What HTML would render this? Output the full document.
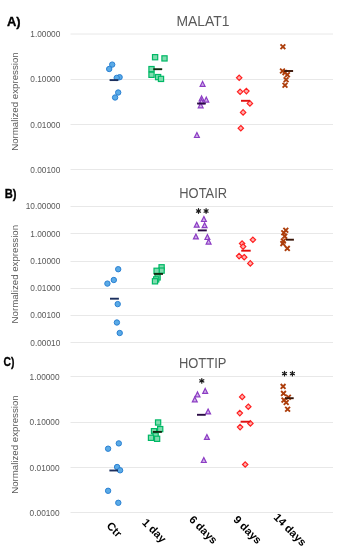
<!DOCTYPE html>
<html><head><meta charset="utf-8"><style>
html,body{margin:0;padding:0;background:#fff;width:343px;height:550px;overflow:hidden}
svg{display:block;will-change:transform}
text{font-family:"Liberation Sans", sans-serif}
.gl{stroke:#e8e8e8;stroke-width:1}
.tk{font-size:8.3px;fill:#595959;text-anchor:end}
.tt{font-size:14.6px;fill:#595959}
.lt{font-size:13.4px;font-weight:bold;fill:#000;stroke:#000;stroke-width:0.35}
.yl{font-size:9.7px;fill:#595959}
.xl{font-size:11.1px;font-weight:bold;fill:#000}
.st{fill:none;stroke:#1a1a1a;stroke-width:1.2;stroke-linecap:round}
.mc{fill:#5aaae6;stroke:#2a80d2;stroke-width:1}
.ms{fill:#7fdcae;stroke:#00b866;stroke-width:1.2}
.mt{fill:#cfb0e8;stroke:#8c3cc4;stroke-width:1.2;stroke-linejoin:miter}
.md{fill:#ffb0b0;stroke:#ff2020;stroke-width:1.2}
.mx{fill:none;stroke:#ad3e0c;stroke-width:1.9}
</style></head><body>
<svg width="343" height="550" viewBox="0 0 343 550">
<line x1="70.5" y1="34.0" x2="333.0" y2="34.0" class="gl"/>
<text x="60.3" y="37.00" class="tk">1.00000</text>
<line x1="70.5" y1="79.5" x2="333.0" y2="79.5" class="gl"/>
<text x="60.3" y="82.20" class="tk">0.10000</text>
<line x1="70.5" y1="124.5" x2="333.0" y2="124.5" class="gl"/>
<text x="60.3" y="127.50" class="tk">0.01000</text>
<line x1="70.5" y1="169.5" x2="333.0" y2="169.5" class="gl"/>
<text x="60.3" y="172.90" class="tk">0.00100</text>
<text x="176.5" y="25.5" class="tt" textLength="53.0" lengthAdjust="spacingAndGlyphs">MALAT1</text>
<text x="7.0" y="26.2" class="lt" textLength="13.6" lengthAdjust="spacingAndGlyphs">A)</text>
<text transform="translate(17.9 101.6) rotate(-90)" class="yl" text-anchor="middle" textLength="98.5" lengthAdjust="spacingAndGlyphs">Normalized expression</text>
<circle cx="112.2" cy="64.6" r="2.7" class="mc"/>
<circle cx="109.2" cy="69.0" r="2.7" class="mc"/>
<circle cx="119.6" cy="77.2" r="2.7" class="mc"/>
<circle cx="116.7" cy="77.9" r="2.7" class="mc"/>
<circle cx="118.2" cy="92.5" r="2.7" class="mc"/>
<circle cx="115.1" cy="97.5" r="2.7" class="mc"/>
<rect x="152.50" y="54.60" width="5.20" height="5.20" class="ms"/>
<rect x="161.90" y="55.80" width="5.20" height="5.20" class="ms"/>
<rect x="148.90" y="66.50" width="5.20" height="5.20" class="ms"/>
<rect x="148.90" y="72.20" width="5.20" height="5.20" class="ms"/>
<rect x="155.50" y="74.50" width="5.20" height="5.20" class="ms"/>
<rect x="158.40" y="76.30" width="5.20" height="5.20" class="ms"/>
<path d="M202.60 81.40L205.05 86.30L200.15 86.30Z" class="mt"/>
<path d="M201.60 95.90L204.05 100.80L199.15 100.80Z" class="mt"/>
<path d="M206.30 97.20L208.75 102.10L203.85 102.10Z" class="mt"/>
<path d="M201.50 98.90L203.95 103.80L199.05 103.80Z" class="mt"/>
<path d="M200.70 102.90L203.15 107.80L198.25 107.80Z" class="mt"/>
<path d="M196.90 132.60L199.35 137.50L194.45 137.50Z" class="mt"/>
<path d="M239.20 75.10L241.90 77.80L239.20 80.50L236.50 77.80Z" class="md"/>
<path d="M240.10 89.10L242.80 91.80L240.10 94.50L237.40 91.80Z" class="md"/>
<path d="M246.40 88.40L249.10 91.10L246.40 93.80L243.70 91.10Z" class="md"/>
<path d="M249.90 100.70L252.60 103.40L249.90 106.10L247.20 103.40Z" class="md"/>
<path d="M243.10 109.70L245.80 112.40L243.10 115.10L240.40 112.40Z" class="md"/>
<path d="M240.80 125.50L243.50 128.20L240.80 130.90L238.10 128.20Z" class="md"/>
<path d="M280.50 44.30L285.30 49.10M285.30 44.30L280.50 49.10" class="mx"/>
<path d="M280.10 68.60L284.90 73.40M284.90 68.60L280.10 73.40" class="mx"/>
<path d="M282.60 70.20L287.40 75.00M287.40 70.20L282.60 75.00" class="mx"/>
<path d="M285.00 72.40L289.80 77.20M289.80 72.40L285.00 77.20" class="mx"/>
<path d="M283.70 77.30L288.50 82.10M288.50 77.30L283.70 82.10" class="mx"/>
<path d="M282.60 82.80L287.40 87.60M287.40 82.80L282.60 87.60" class="mx"/>
<line x1="109.6" y1="80.1" x2="118.3" y2="80.1" stroke="#1b2f5e" stroke-width="1.9"/>
<line x1="153.3" y1="69.2" x2="162.2" y2="69.2" stroke="#102a10" stroke-width="1.9"/>
<line x1="197.1" y1="103.5" x2="205.8" y2="103.5" stroke="#2a0b45" stroke-width="1.9"/>
<line x1="241" y1="100.8" x2="249.9" y2="100.8" stroke="#e01010" stroke-width="1.9"/>
<line x1="284.2" y1="71" x2="293.1" y2="71" stroke="#3a1608" stroke-width="1.9"/>
<line x1="70.5" y1="206.5" x2="333.0" y2="206.5" class="gl"/>
<text x="60.3" y="209.40" class="tk">10.00000</text>
<line x1="70.5" y1="233.5" x2="333.0" y2="233.5" class="gl"/>
<text x="60.3" y="236.90" class="tk">1.00000</text>
<line x1="70.5" y1="261.5" x2="333.0" y2="261.5" class="gl"/>
<text x="60.3" y="264.40" class="tk">0.10000</text>
<line x1="70.5" y1="288.5" x2="333.0" y2="288.5" class="gl"/>
<text x="60.3" y="291.30" class="tk">0.01000</text>
<line x1="70.5" y1="315.5" x2="333.0" y2="315.5" class="gl"/>
<text x="60.3" y="318.40" class="tk">0.00100</text>
<line x1="70.5" y1="342.5" x2="333.0" y2="342.5" class="gl"/>
<text x="60.3" y="345.60" class="tk">0.00010</text>
<text x="179.3" y="198.4" class="tt" textLength="47.8" lengthAdjust="spacingAndGlyphs">HOTAIR</text>
<text x="4.8" y="198.2" class="lt" textLength="11.8" lengthAdjust="spacingAndGlyphs">B)</text>
<text transform="translate(17.9 274.2) rotate(-90)" class="yl" text-anchor="middle" textLength="98.5" lengthAdjust="spacingAndGlyphs">Normalized expression</text>
<circle cx="118.2" cy="269.2" r="2.7" class="mc"/>
<circle cx="113.8" cy="280" r="2.7" class="mc"/>
<circle cx="107.4" cy="283.6" r="2.7" class="mc"/>
<circle cx="117.7" cy="304.1" r="2.7" class="mc"/>
<circle cx="116.9" cy="322.5" r="2.7" class="mc"/>
<circle cx="119.7" cy="333" r="2.7" class="mc"/>
<rect x="159.00" y="264.70" width="5.20" height="5.20" class="ms"/>
<rect x="159.00" y="268.00" width="5.20" height="5.20" class="ms"/>
<rect x="154.00" y="268.20" width="5.20" height="5.20" class="ms"/>
<rect x="155.00" y="274.80" width="5.20" height="5.20" class="ms"/>
<rect x="153.60" y="276.80" width="5.20" height="5.20" class="ms"/>
<rect x="152.40" y="278.70" width="5.20" height="5.20" class="ms"/>
<path d="M203.90 216.60L206.35 221.50L201.45 221.50Z" class="mt"/>
<path d="M196.70 222.30L199.15 227.20L194.25 227.20Z" class="mt"/>
<path d="M204.60 222.80L207.05 227.70L202.15 227.70Z" class="mt"/>
<path d="M195.90 234.00L198.35 238.90L193.45 238.90Z" class="mt"/>
<path d="M207.40 234.60L209.85 239.50L204.95 239.50Z" class="mt"/>
<path d="M208.60 239.20L211.05 244.10L206.15 244.10Z" class="mt"/>
<path d="M252.90 237.10L255.60 239.80L252.90 242.50L250.20 239.80Z" class="md"/>
<path d="M242.10 240.80L244.80 243.50L242.10 246.20L239.40 243.50Z" class="md"/>
<path d="M243.10 243.90L245.80 246.60L243.10 249.30L240.40 246.60Z" class="md"/>
<path d="M239.10 253.40L241.80 256.10L239.10 258.80L236.40 256.10Z" class="md"/>
<path d="M244.20 254.50L246.90 257.20L244.20 259.90L241.50 257.20Z" class="md"/>
<path d="M250.30 260.70L253.00 263.40L250.30 266.10L247.60 263.40Z" class="md"/>
<path d="M283.40 227.90L288.20 232.70M288.20 227.90L283.40 232.70" class="mx"/>
<path d="M281.40 230.30L286.20 235.10M286.20 230.30L281.40 235.10" class="mx"/>
<path d="M282.30 233.80L287.10 238.60M287.10 233.80L282.30 238.60" class="mx"/>
<path d="M281.00 238.60L285.80 243.40M285.80 238.60L281.00 243.40" class="mx"/>
<path d="M280.50 241.20L285.30 246.00M285.30 241.20L280.50 246.00" class="mx"/>
<path d="M284.90 246.00L289.70 250.80M289.70 246.00L284.90 250.80" class="mx"/>
<line x1="110" y1="298.7" x2="118.9" y2="298.7" stroke="#1b2f5e" stroke-width="1.9"/>
<line x1="153.8" y1="273.9" x2="163" y2="273.9" stroke="#102a10" stroke-width="1.9"/>
<line x1="197.8" y1="230.4" x2="206.8" y2="230.4" stroke="#2a0b45" stroke-width="1.9"/>
<line x1="241.2" y1="250.7" x2="250.7" y2="250.7" stroke="#e01010" stroke-width="1.9"/>
<line x1="286" y1="239.7" x2="293.9" y2="239.7" stroke="#3a1608" stroke-width="1.9"/>
<path d="M198.50 208.65V213.35M196.46 209.82L200.54 212.18M196.46 212.18L200.54 209.82" class="st"/>
<path d="M206.10 208.65V213.35M204.06 209.82L208.14 212.18M204.06 212.18L208.14 209.82" class="st"/>
<line x1="70.5" y1="376.5" x2="333.0" y2="376.5" class="gl"/>
<text x="59.6" y="379.80" class="tk">1.00000</text>
<line x1="70.5" y1="422.5" x2="333.0" y2="422.5" class="gl"/>
<text x="59.6" y="425.20" class="tk">0.10000</text>
<line x1="70.5" y1="467.5" x2="333.0" y2="467.5" class="gl"/>
<text x="59.6" y="470.60" class="tk">0.01000</text>
<line x1="70.5" y1="512.5" x2="333.0" y2="512.5" class="gl"/>
<text x="59.6" y="515.70" class="tk">0.00100</text>
<text x="178.9" y="368.4" class="tt" textLength="47.5" lengthAdjust="spacingAndGlyphs">HOTTIP</text>
<text x="3.5" y="365.9" class="lt" textLength="10.9" lengthAdjust="spacingAndGlyphs">C)</text>
<text transform="translate(17.9 444.6) rotate(-90)" class="yl" text-anchor="middle" textLength="98.5" lengthAdjust="spacingAndGlyphs">Normalized expression</text>
<circle cx="118.8" cy="443.4" r="2.7" class="mc"/>
<circle cx="108.1" cy="448.7" r="2.7" class="mc"/>
<circle cx="117.1" cy="467" r="2.7" class="mc"/>
<circle cx="120.1" cy="470.3" r="2.7" class="mc"/>
<circle cx="108.1" cy="490.8" r="2.7" class="mc"/>
<circle cx="118.3" cy="502.8" r="2.7" class="mc"/>
<rect x="155.50" y="419.90" width="5.20" height="5.20" class="ms"/>
<rect x="157.60" y="426.50" width="5.20" height="5.20" class="ms"/>
<rect x="151.40" y="428.60" width="5.20" height="5.20" class="ms"/>
<rect x="153.00" y="432.90" width="5.20" height="5.20" class="ms"/>
<rect x="148.40" y="435.20" width="5.20" height="5.20" class="ms"/>
<rect x="154.50" y="436.20" width="5.20" height="5.20" class="ms"/>
<path d="M205.20 388.40L207.65 393.30L202.75 393.30Z" class="mt"/>
<path d="M197.50 391.90L199.95 396.80L195.05 396.80Z" class="mt"/>
<path d="M194.80 396.90L197.25 401.80L192.35 401.80Z" class="mt"/>
<path d="M208.10 409.00L210.55 413.90L205.65 413.90Z" class="mt"/>
<path d="M206.90 434.50L209.35 439.40L204.45 439.40Z" class="mt"/>
<path d="M203.80 457.60L206.25 462.50L201.35 462.50Z" class="mt"/>
<path d="M242.20 394.20L244.90 396.90L242.20 399.60L239.50 396.90Z" class="md"/>
<path d="M248.30 404.00L251.00 406.70L248.30 409.40L245.60 406.70Z" class="md"/>
<path d="M239.80 410.40L242.50 413.10L239.80 415.80L237.10 413.10Z" class="md"/>
<path d="M250.40 420.70L253.10 423.40L250.40 426.10L247.70 423.40Z" class="md"/>
<path d="M240.10 424.40L242.80 427.10L240.10 429.80L237.40 427.10Z" class="md"/>
<path d="M245.20 461.80L247.90 464.50L245.20 467.20L242.50 464.50Z" class="md"/>
<path d="M280.70 384.00L285.50 388.80M285.50 384.00L280.70 388.80" class="mx"/>
<path d="M281.10 391.00L285.90 395.80M285.90 391.00L281.10 395.80" class="mx"/>
<path d="M286.00 394.80L290.80 399.60M290.80 394.80L286.00 399.60" class="mx"/>
<path d="M281.60 397.70L286.40 402.50M286.40 397.70L281.60 402.50" class="mx"/>
<path d="M283.80 400.10L288.60 404.90M288.60 400.10L283.80 404.90" class="mx"/>
<path d="M285.20 406.90L290.00 411.70M290.00 406.90L285.20 411.70" class="mx"/>
<line x1="109.4" y1="470.5" x2="118" y2="470.5" stroke="#1b2f5e" stroke-width="1.9"/>
<line x1="152.8" y1="431.9" x2="161.9" y2="431.9" stroke="#102a10" stroke-width="1.9"/>
<line x1="197" y1="414.8" x2="205.7" y2="414.8" stroke="#2a0b45" stroke-width="1.9"/>
<line x1="240.6" y1="421.7" x2="250.4" y2="421.7" stroke="#e01010" stroke-width="1.9"/>
<line x1="285" y1="398.2" x2="293.7" y2="398.2" stroke="#3a1608" stroke-width="1.9"/>
<path d="M201.80 378.55V383.25M199.76 379.72L203.84 382.07M199.76 382.07L203.84 379.72" class="st"/>
<path d="M284.50 371.25V375.95M282.46 372.43L286.54 374.78M282.46 374.78L286.54 372.43" class="st"/>
<path d="M292.40 371.25V375.95M290.36 372.43L294.44 374.78M290.36 374.78L294.44 372.43" class="st"/>
<text transform="translate(105.9 526.6) rotate(45)" class="xl">Ctr</text>
<text transform="translate(141.6 523.2) rotate(45)" class="xl">1 day</text>
<text transform="translate(188.5 520.2) rotate(45)" class="xl">6 days</text>
<text transform="translate(232.7 520.3) rotate(45)" class="xl">9 days</text>
<text transform="translate(273.1 518.0) rotate(45)" class="xl">14 days</text>
</svg>
</body></html>
